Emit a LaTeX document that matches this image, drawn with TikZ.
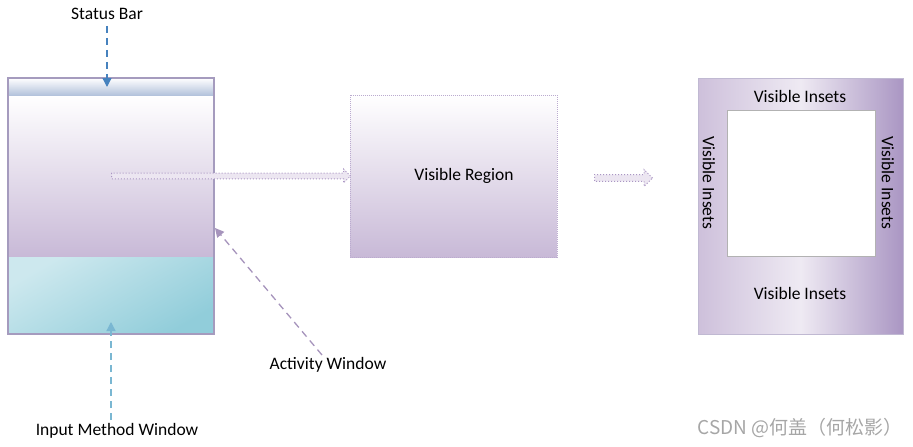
\documentclass[tikz,border=0pt]{standalone}
\usepackage{fontspec}
\setmainfont{Carlito}
\newfontfamily\cjk{Noto Sans CJK SC}
\usetikzlibrary{arrows.meta,shapes.arrows}
\definecolor{pur}{RGB}{200,185,215}
\definecolor{purd}{RGB}{170,150,195}
\definecolor{edgec}{RGB}{165,155,190}
\definecolor{cyn}{RGB}{145,205,218}
\definecolor{dblue}{RGB}{70,130,190}
\definecolor{sbar}{RGB}{180,195,220}
\tikzset{lbl/.style={font=\fontsize{17.5}{20}\selectfont, inner sep=0pt},
 dasharrow/.style={dash pattern=on 7pt off 5pt, line width=1.3pt, -{Triangle[length=9pt,width=9pt]}},
 fatarrow/.style={single arrow, draw=purd, dotted, line width=1pt, fill=pur!35, minimum height=#1, single arrow head extend=3pt, inner sep=1.5pt, anchor=west}}
\begin{document}
\begin{tikzpicture}[x=1pt,y=-1pt]
\useasboundingbox (0,0) rectangle (913,447);
% left window
\shade[top color=white, bottom color=pur] (8,95) rectangle (214,257);
\shade[top color=white, bottom color=sbar] (8,78) rectangle (214,95);
\shade[left color=cyn!45, right color=cyn, shading angle=30] (8,257) rectangle (214,334);
\draw[edgec, line width=1.2pt] (8,78) rectangle (214,334);
\coordinate (winr) at (215,228);
\coordinate (sbtop) at (107,87);
\coordinate (imtop) at (111,322);
% labels
\node[lbl] (sb) at (107,14) {Status Bar};
\node[lbl] (im) at (117,431) {Input Method Window};
\node[lbl] (aw) at (328,365) {Activity Window};
\draw[dasharrow, dblue] (sb.south) ++(0,6) -- (sbtop);
\draw[dasharrow, cyn!70!dblue] (111,420) -- (imtop);
\draw[dasharrow, purd!90!gray] (322,355) -- (winr);
% visible region
\shade[top color=white, bottom color=pur] (350,95) rectangle (557,257);
\draw[purd!80, densely dotted, line width=1pt] (350,95) rectangle (557,257);
\node[lbl] (vr) at (464,176) {Visible Region};
\node[fatarrow=239pt, minimum width=14pt] (a1) at (111,176) {};
\node[fatarrow=58pt, minimum width=17pt] (a2) at (594,178) {};
% insets
\shade[left color=pur!90, right color=purd, middle color=pur!30] (698,78) rectangle (903,334);
\draw[edgec!70, line width=1pt] (698,78) rectangle (903,334);
\fill[white] (727,110) rectangle (875,256);
\draw[gray!60] (727,110) rectangle (875,256);
\node[lbl] (it) at (800,96) {Visible Insets};
\node[lbl] (ib) at (800,293) {Visible Insets};
\node[lbl, rotate=-90] (il) at (709,183) {Visible Insets};
\node[lbl, rotate=-90] (ir) at (888,183) {Visible Insets};
\node[font=\cjk\fontsize{19}{22}\selectfont, text=gray!70, inner sep=0] (wm) at (800,428) {CSDN @何盖（何松影）};
\end{tikzpicture}
\end{document}
